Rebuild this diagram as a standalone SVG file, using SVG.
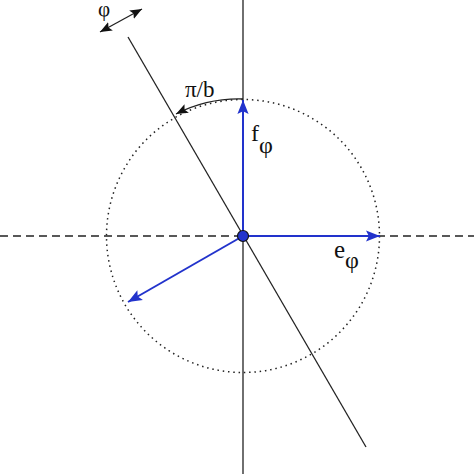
<svg xmlns="http://www.w3.org/2000/svg" width="474" height="474" viewBox="0 0 474 474">
<style>
.ax{stroke:#222;stroke-width:1.3;fill:none}
.bl{stroke:#2233cc;stroke-width:2;fill:none}
.t{font-family:"Liberation Serif","DejaVu Serif",serif;fill:#111}
</style>
<defs>
<marker id="ab" viewBox="0 0 10 10" refX="10" refY="5" markerWidth="14" markerHeight="14" markerUnits="userSpaceOnUse" orient="auto"><path d="M0,1 L10,5 L0,9 L2,5 Z" fill="#2233cc"/></marker>
<marker id="ak" viewBox="0 0 10 10" refX="10" refY="5" markerWidth="12" markerHeight="12" markerUnits="userSpaceOnUse" orient="auto-start-reverse"><path d="M0,1 L10,5 L0,9 L2,5 Z" fill="#111"/></marker>
</defs>
<rect width="474" height="474" fill="#fff"/>
<g id="connectors">
<line class="ax" x1="243" y1="0" x2="243" y2="474"/>
<line class="ax" x1="0" y1="236" x2="474" y2="236" stroke-dasharray="8 5"/>
<circle cx="243" cy="236" r="136.5" fill="none" stroke="#222" stroke-width="1.5" stroke-dasharray="1.5 3.8"/>
<line class="ax" x1="128" y1="37" x2="366" y2="447"/>
<line class="ax" x1="100" y1="32" x2="142" y2="9" marker-start="url(#ak)" marker-end="url(#ak)"/>
<path class="ax" d="M243,99 A138,138 0 0 0 176,114" marker-end="url(#ak)"/>
<line class="bl" x1="243" y1="236" x2="243" y2="100" marker-end="url(#ab)"/>
<line class="bl" x1="243" y1="236" x2="380" y2="236" marker-end="url(#ab)"/>
<line class="bl" x1="243" y1="236" x2="128" y2="302" marker-end="url(#ab)"/>
</g>
<g id="center"><circle cx="243" cy="236" r="5.5" fill="#2233cc" stroke="#111" stroke-width="1.2"/></g>
<g id="labels">
<text class="t" x="98" y="16" font-size="21">φ</text>
<text class="t" x="185" y="97" font-size="23">π/b</text>
<text class="t" x="251" y="141" font-size="24">f<tspan font-size="24" dy="12">φ</tspan></text>
<text class="t" x="334" y="258" font-size="25">e<tspan font-size="24" dy="10">φ</tspan></text>
</g>
</svg>
